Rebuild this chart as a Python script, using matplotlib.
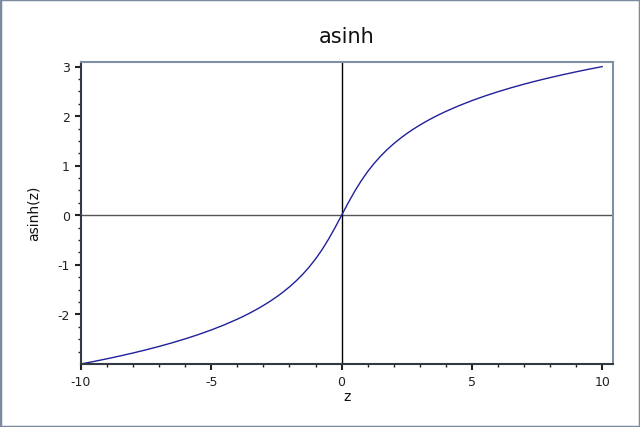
import matplotlib
matplotlib.use("Agg")
import matplotlib.pyplot as plt
from matplotlib.ticker import MultipleLocator
from matplotlib.patches import Rectangle

plt.rcParams["axes.unicode_minus"] = False

z = [-10, -9.5, -9, -8.5, -8, -7.5, -7, -6.5, -6, -5.5, -5, -4.5, -4,
     -3.75, -3.5, -3.25, -3, -2.75, -2.5, -2.25, -2, -1.75, -1.5, -1.25, -1,
     -0.75, -0.5, -0.25, 0, 0.25, 0.5, 0.75, 1, 1.25, 1.5, 1.75, 2, 2.25,
     2.5, 2.75, 3, 3.25, 3.5, 3.75, 4, 4.5, 5, 5.5, 6, 6.5, 7, 7.5, 8, 8.5,
     9, 9.5, 10]
asinh_z = [-2.9982, -2.9472, -2.8934, -2.8366, -2.7765, -2.7125, -2.6441,
           -2.5709, -2.4918, -2.4061, -2.3124, -2.2093, -2.0947, -2.0323,
           -1.9657, -1.8947, -1.8184, -1.7365, -1.6472, -1.5501, -1.4436,
           -1.3258, -1.1948, -1.0476, -0.8814, -0.6931, -0.4812, -0.2475, 0.0,
           0.2475, 0.4812, 0.6931, 0.8814, 1.0476, 1.1948, 1.3258, 1.4436,
           1.5501, 1.6472, 1.7365, 1.8184, 1.8947, 1.9657, 2.0323, 2.0947,
           2.2093, 2.3124, 2.4061, 2.4918, 2.5709, 2.6441, 2.7125, 2.7765,
           2.8366, 2.8934, 2.9472, 2.9982]
x_ticks = [-10, -5, 0, 5, 10]
y_ticks = [-2, -1, 0, 1, 2, 3]

fig = plt.figure(figsize=(6.4, 4.275), dpi=100)
ax = fig.add_axes([0.1266, 0.1475, 0.8314, 0.7073])

ax.axhline(0, color="#555555", lw=1.0, zorder=1)
ax.axvline(0, color="black", lw=1.0, zorder=1)
ax.plot(z, asinh_z, color="#20209a", lw=1.0, zorder=2)

ax.set_xlim(-10, 10.42)
ax.set_ylim(-2.998, 3.10)
ax.set_xticks(x_ticks)
ax.set_yticks(y_ticks)
ax.xaxis.set_minor_locator(MultipleLocator(1))
ax.yaxis.set_minor_locator(MultipleLocator(0.25))
ax.tick_params(which="major", direction="out", length=4, width=1.5, color="#222222",
               labelsize=9, pad=4, labelcolor="#222222")
ax.tick_params(which="minor", direction="out", length=2, width=1, color="#222222")

for side in ["left", "bottom"]:
    ax.spines[side].set_color("#333a44")
    ax.spines[side].set_linewidth(1.5)
for side in ["top", "right"]:
    ax.spines[side].set_color("#8090a4")
    ax.spines[side].set_linewidth(1.5)

ax.set_title("asinh", fontsize=15, pad=14, color="#111111")
ax.set_xlabel("z", fontsize=10, labelpad=1, color="#111111")
ax.set_ylabel("asinh(z)", fontsize=10, labelpad=12, color="#111111")

fig.patches.append(Rectangle((0, 0), 1, 1, transform=fig.transFigure, fill=False,
                             edgecolor="#7a8aa0", lw=2.5))

fig.savefig("out.png", dpi=100)
